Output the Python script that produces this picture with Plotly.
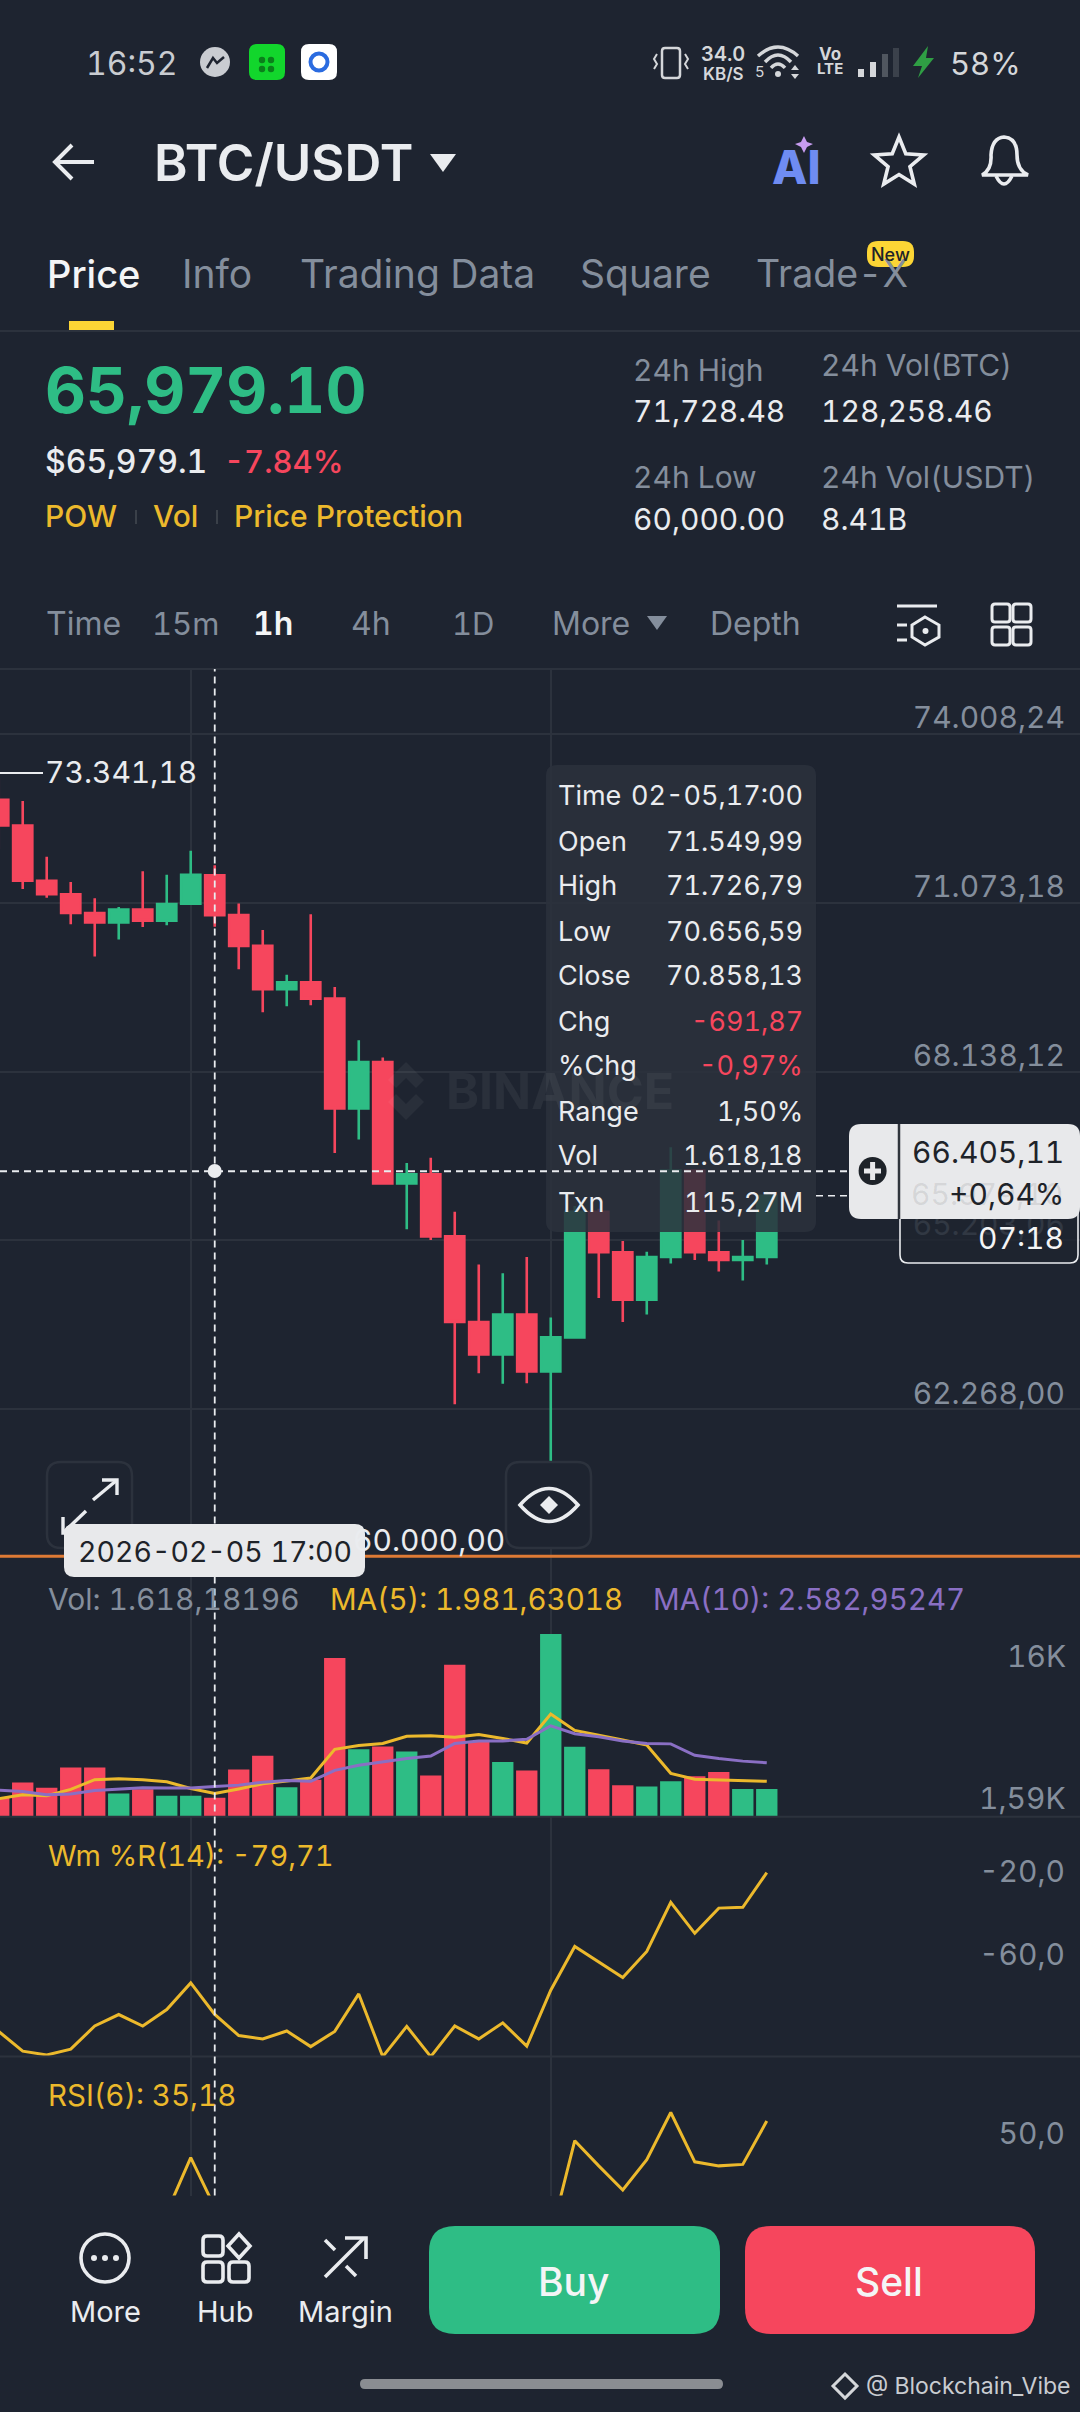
import pandas as pd
import plotly.graph_objects as go
from math import cos, sin, pi

W, H = 1080, 2412
FONT = "Inter"
BG = "#1e2430"
GRID = "#2c323d"
GREEN = "#2ebd85"
RED = "#f6465d"
GRAY = "#848e9c"
YEL = "#ecb92c"
PUR = "#8a6fc4"

times = pd.date_range("2026-02-05 08:00", periods=33, freq="h")
opens = [72865,72416,71457,71222,70895,70732,70957,70763,71059,71549.99,70858,70324,69569,69691,69406,67497,68303,66191,66354,65273,63783,63221,63915,62925,63517,65701,64997,64170,64915,66416,64997,64864,64915]
highs = [73253,72845,71875,71436,71151,70998,71620,71559,71977,71726.79,71059,70600,69824,70875,69610,68681,68385,66548,66640,65701,64783,64630,64915,63864,65803,65752,65191,65007,66824,66416,65548,65211,66058]
lows = [72008,71314,71161,70702,70140,70436,70651,70681,71059,70656.59,69916,69171,69273,69293,66722,66956,66191,65395,65211,62354,62895,62711,62721,60000,63517,64201,63783,63915,64803,64864,64660,64507,64783]
closes = [72416,71457,71222,70895,70732,70957,70763,71049,71559,70858.13,70324,69569,69691,69406,67497,68303,66191,66354,65273,63783,63221,63915,62925,63517,65701,64997,64170,64915,66416,64997,64864,64915,65979.10]
volumes = [1692,2916,2484,4212,4212,1980,2340,1800,1800,1618.18,4032,5220,2520,3168,13572,5760,6012,5580,3528,12996,6480,4680,3960,15624,5976,4068,2700,2592,3024,3456,3816,2376,2376]
ma5 = [1548,1872,1800,2340,3168,3240,3168,2988,2412,1981.63,2376,2808,3060,3312,5760,6084,6264,6876,6912,6804,7020,6696,6300,8784,7380,6984,6552,6120,3708,3204,3132,3096,3024]
ma10 = [2268,2160,1872,1944,2232,2376,2484,2448,2448,2582.95,2700,2952,3096,3024,3960,4392,4680,4968,5184,6264,6480,6480,6624,7776,7092,6840,6480,6264,6228,5256,4968,4752,4608]
wr14 = [-87.9,-97.4,-99.2,-96.4,-85.3,-79.8,-85.3,-77.4,-64.6,-79.71,-89.9,-91.5,-87.7,-95.2,-87.9,-69.9,-100,-85.5,-100,-85.3,-91.5,-83.8,-95,-68.1,-47.1,-54.5,-62,-49.5,-25.9,-40.8,-28.7,-28.3,-11.7]
rsi6 = [30,25,22,24,30,34,30,33.8,48.6,35.18,28,25,28,26,20,30,20,22,18,14,14,20,17,27.4,53.2,46.4,39.9,48.1,60.8,47.5,46.4,46.8,58.5]
price_ticks = [74008.24,71073.18,68138.12,65203.06,62268.00,59332.94]
price_labels = ["74.008,24","71.073,18","68.138,12","65.203,06","62.268,00","59.332,94"]
wr_ticks = [-20,-60]
wr_labels = ["-20,0","-60,0"]
rsi_ticks = [50]
rsi_labels = ["50,0"]
cross_price = 66405.11
last_price = 65979.10
alert_price = 59711
tooltip_rows = [("Time","02-05,17:00"),("Open","71.549,99"),("High","71.726,79"),("Low","70.656,59"),("Close","70.858,13"),("Chg","-691,87"),("%Chg","-0,97%"),("Range","1,50%"),("Vol","1.618,18"),("Txn","115,27M")]
tooltip_y = [796,841,886,931,976,1021,1066,1111,1156,1202]
tabs = [("Price",46,"#f4f5f6",38),("Info",181,GRAY,39),("Trading Data",299,GRAY,39),("Square",579,GRAY,39),("Trade-X",755,GRAY,37.5)]
intervals = [("Time",45,GRAY,400),("15m",151,GRAY,400),("1h",252,"#f4f5f6",600),("4h",350,GRAY,400),("1D",451,GRAY,400),("More",551,GRAY,400),("Depth",709,GRAY,400)]

px_left = times[0] + pd.Timedelta(minutes=3.2)
px_right = times[0] + pd.Timedelta(hours=45.05)

ann, shp = [], []
def fx(x): return x / W
def fy(y): return 1 - y / H
def P(a, b): return f"{fx(a):.5f} {fy(b):.5f}"
def T(text, x, y, size, color, anchor="left", weight=400):
    ann.append(dict(text=text, xref="paper", yref="paper", x=fx(x), y=fy(y), xanchor=anchor, yanchor="middle",
                    showarrow=False, borderpad=0, font=dict(family=FONT, size=size, color=color, weight=weight)))
def path(pts, color=None, width=2.5, fill=None, close=False, layer="above"):
    d = "M" + " L".join(P(a, b) for a, b in pts) + (" Z" if close else "")
    shp.append(dict(type="path", path=d, xref="paper", yref="paper", layer=layer, fillcolor=fill or "rgba(0,0,0,0)",
                    line=dict(color=color or "rgba(0,0,0,0)", width=width if color else 0)))
def rawpath(d, color, width):
    shp.append(dict(type="path", xref="paper", yref="paper", layer="above", fillcolor="rgba(0,0,0,0)",
                    line=dict(color=color, width=width), path=d))
def rrect(x0, y0, x1, y1, r, fill=None, color=None, width=2, layer="above"):
    d = (f"M{P(x0+r,y0)} L{P(x1-r,y0)} Q{P(x1,y0)} {P(x1,y0+r)} L{P(x1,y1-r)} Q{P(x1,y1)} {P(x1-r,y1)} "
         f"L{P(x0+r,y1)} Q{P(x0,y1)} {P(x0,y1-r)} L{P(x0,y0+r)} Q{P(x0,y0)} {P(x0+r,y0)} Z")
    shp.append(dict(type="path", path=d, xref="paper", yref="paper", layer=layer, fillcolor=fill or "rgba(0,0,0,0)",
                    line=dict(color=color or "rgba(0,0,0,0)", width=width if color else 0)))
def circ(cx, cy, rx, ry=None, fill=None, color=None, width=2.5):
    ry = ry or rx
    shp.append(dict(type="circle", xref="paper", yref="paper", x0=fx(cx-rx), x1=fx(cx+rx), y0=fy(cy+ry), y1=fy(cy-ry),
                    layer="above", fillcolor=fill or "rgba(0,0,0,0)", line=dict(color=color or "rgba(0,0,0,0)", width=width if color else 0)))
def line(x0, y0, x1, y1, color, width=2, dash=None, layer="above"):
    shp.append(dict(type="line", xref="paper", yref="paper", x0=fx(x0), x1=fx(x1), y0=fy(y0), y1=fy(y1), layer=layer,
                    line=dict(color=color, width=width, dash=dash)))

fig = go.Figure()
fig.add_trace(go.Candlestick(x=times, open=opens, high=highs, low=lows, close=closes, xaxis="x", yaxis="y",
    increasing=dict(line=dict(color=GREEN, width=2.6), fillcolor=GREEN),
    decreasing=dict(line=dict(color=RED, width=2.6), fillcolor=RED), whiskerwidth=0, hoverinfo="skip"))
fig.add_trace(go.Bar(x=times, y=volumes, xaxis="x", yaxis="y2", hoverinfo="skip",
    marker=dict(color=[GREEN if c >= o else RED for o, c in zip(opens, closes)], line=dict(width=0))))
fig.add_trace(go.Scatter(x=times, y=ma5, xaxis="x", yaxis="y2", mode="lines", line=dict(color=YEL, width=3), hoverinfo="skip"))
fig.add_trace(go.Scatter(x=times, y=ma10, xaxis="x", yaxis="y2", mode="lines", line=dict(color=PUR, width=3), hoverinfo="skip"))
fig.add_trace(go.Scatter(x=times, y=wr14, xaxis="x", yaxis="y3", mode="lines", line=dict(color=YEL, width=3), hoverinfo="skip"))
fig.add_trace(go.Scatter(x=times, y=rsi6, xaxis="x", yaxis="y4", mode="lines", line=dict(color=YEL, width=3), hoverinfo="skip"))

tickfont = dict(family=FONT, size=30, color=GRAY)
common = dict(side="right", ticks="", ticklabelposition="inside top", ticklabelstandoff=12, tickfont=tickfont,
              zeroline=False, showline=False, anchor="x", tickmode="array")
layout_axes = dict(
    xaxis=dict(type="date", range=[px_left, px_right], domain=[0, 1], tickmode="array", tickvals=[times[8], times[23]],
               showticklabels=False, ticks="", showgrid=True, gridcolor=GRID, gridwidth=1.5, zeroline=False,
               rangeslider=dict(visible=False), anchor="y"),
    yaxis=dict(domain=[fy(1578), fy(669)], range=[59332.94, 75138], tickvals=price_ticks, ticktext=price_labels,
               ticklabelshift=5, showgrid=True, gridcolor=GRID, gridwidth=1.5, **common),
    yaxis2=dict(domain=[fy(1816.7), fy(1578)], range=[0, 20412], showgrid=False, showticklabels=False, **common),
    yaxis3=dict(domain=[fy(2056.6), fy(1816.7)], range=[-100, 15.2], tickvals=wr_ticks, ticktext=wr_labels,
                ticklabelshift=2, showgrid=False, **common),
    yaxis4=dict(domain=[fy(2195.5), fy(2056.6)], range=[38.4, 75.9], tickvals=rsi_ticks, ticktext=rsi_labels,
                ticklabelshift=2, showgrid=False, **common),
)

# pane rules
line(0, 331, W, 331, GRID, 2)
line(0, 669, W, 669, GRID, 2)
line(0, 1816.7, W, 1816.7, GRID, 2)
line(0, 2056.6, W, 2056.6, GRID, 2)

# status bar
T("16:52", 85, 63, 32, "#c9ccd1")
circ(215, 62, 15, fill="#c9ccd1")
path([(207,68),(213,58),(217,63),(224,57)], "#1e2430", 2.5)
rrect(249, 44, 285, 80, 8, fill="#12d62c")
for a, b in [(262,60),(271,60),(262,69),(271,69)]:
    circ(a, b, 3.2, fill="#0b7f1b")
rrect(301, 44, 337, 80, 8, fill="#ffffff")
circ(319, 62, 8.5, color="#2a6be0", width=4)
T("34.0", 723, 54, 20, "#d5d7da", "center", 600)
T("KB/S", 723, 74, 17, "#d5d7da", "center", 600)
T("5", 760, 72, 15, "#d5d7da", "center")
rrect(662, 48, 680, 78, 3, color="#d5d7da", width=2.5)
path([(657,54),(654,59),(657,64),(654,69)], "#d5d7da", 2)
path([(685,54),(688,59),(685,64),(688,69)], "#d5d7da", 2)
rawpath(f"M{P(758,56)} Q{P(778,38)} {P(798,56)}", "#d5d7da", 3.4)
rawpath(f"M{P(765,62)} Q{P(778,48)} {P(791,62)}", "#d5d7da", 3.4)
rawpath(f"M{P(771,68)} Q{P(778,60)} {P(785,68)}", "#d5d7da", 3.4)
circ(778, 74, 3, fill="#d5d7da")
path([(791,70),(795,65),(799,70)], None, fill="#d5d7da", close=True)
path([(791,74),(795,79),(799,74)], None, fill="#d5d7da", close=True)
T("Vo", 830, 54, 17, "#d5d7da", "center", 700)
T("LTE", 830, 69, 15, "#d5d7da", "center", 700)
for bx, top, c in [(861,69,"#d5d7da"),(873,62,"#d5d7da"),(885,54,"#50565f"),(896,48,"#3b414b")]:
    line(bx, 77, bx, top, c, 6)
path([(928,46),(913,66),(922,66),(918,78),(934,58),(926,58)], None, fill="#2f9e44", close=True)
T("58%", 949, 63, 31, "#d5d7da")

# header
path([(94,162),(56,162)], "#eaecef", 4)
path([(72,145),(55,162),(72,179)], "#eaecef", 4)
T("BTC/USDT", 153, 163, 51, "#eaecef", weight=600)
path([(430,154),(456,154),(443,172)], None, fill="#eaecef", close=True)
T("AI", 796, 167, 46, "#6f8cf2", "center", 800)
path([(804,136),(807,142),(813,144),(807,147),(804,153),(801,147),(795,144),(801,142)], None, fill="#c79cf0", close=True)
star = []
for k in range(10):
    r = 26 if k % 2 == 0 else 11.5
    star.append((899 + r*sin(k*pi/5), 163 - r*cos(k*pi/5)))
path(star, "#eaecef", 3.6, close=True)
rawpath(f"M{P(982,175)} Q{P(992,170)} {P(991,155)} Q{P(992,138)} {P(1004,137)} Q{P(1017,138)} {P(1017,155)} Q{P(1017,170)} {P(1028,175)} Z", "#eaecef", 3.6)
rawpath(f"M{P(996,176)} Q{P(1004,192)} {P(1012,176)}", "#eaecef", 3.6)

# tabs
for t, x, c, s in tabs:
    T(t, x, 274, s, c, weight=500 if t == "Price" else 400)
rrect(867, 241, 914, 267, 11, fill="#fcd535")
T("New", 890.5, 254, 18, "#1e2329", "center", 500)
shp.append(dict(type="rect", xref="paper", yref="paper", x0=fx(69), x1=fx(114), y0=fy(330), y1=fy(321), fillcolor="#fcd535", line=dict(width=0), layer="above"))

# ticker
T("65,979.10", 44, 389, 63.5, GREEN, weight=700)
T("$65,979.1", 44, 462, 32, "#eaecef", weight=500)
T("-7.84%", 223, 462, 31, RED, weight=500)
T("POW", 44, 516, 30, YEL, weight=500)
T("Vol", 152, 516, 30, YEL, weight=500)
T("Price Protection", 233, 516, 30, YEL, weight=500)
line(136, 510, 136, 524, "#3a4049", 2)
line(217, 510, 217, 524, "#3a4049", 2)
T("24h High", 632, 370, 30, GRAY)
T("71,728.48", 632, 411, 30, "#eaecef")
T("24h Low", 632, 477, 30, GRAY)
T("60,000.00", 632, 519, 30, "#eaecef")
T("24h Vol(BTC)", 820, 365, 30, GRAY)
T("128,258.46", 820, 411, 30, "#eaecef")
T("24h Vol(USDT)", 820, 477, 30, GRAY)
T("8.41B", 820, 519, 30, "#eaecef")

# interval row
for t, x, c, w in intervals:
    T(t, x, 624, 32 if t not in ("15m", "1D") else 31, c, weight=w)
path([(647,616),(667,616),(657,630)], None, fill=GRAY, close=True)
line(897, 606, 937, 606, "#eaecef", 3)
line(897, 625, 907, 625, "#eaecef", 3)
line(897, 640, 907, 640, "#eaecef", 3)
path([(925,617),(939,625),(939,637),(925,645),(912,637),(912,625)], "#eaecef", 3, close=True)
circ(925.5, 631, 3, fill="#eaecef")
for a, b in [(992,604),(1013,604),(992,627),(1013,627)]:
    rrect(a, b, a+18, b+18, 3, color="#eaecef", width=3)

# watermark
path([(406,1062),(388,1080),(396,1088),(406,1078),(416,1088),(424,1080)], None, fill="rgba(255,255,255,0.05)", close=True)
path([(406,1120),(388,1102),(396,1094),(406,1104),(416,1094),(424,1102)], None, fill="rgba(255,255,255,0.05)", close=True)
T("BINANCE", 445, 1091, 50, "rgba(255,255,255,0.055)", weight=700)

# price markers
line(0, 773, 43, 773, "#eaecef", 2)
ann.append(dict(text="73.341,18", xref="paper", yref="y", x=fx(44), y=73341.18, xanchor="left", yanchor="middle", showarrow=False,
                borderpad=0, font=dict(family=FONT, size=30, color="#eaecef")))
shp.append(dict(type="line", xref="paper", yref="y", x0=0, x1=1, y0=alert_price, y1=alert_price, layer="above", line=dict(color="#de7a35", width=3)))
shp.append(dict(type="line", xref="paper", yref="y", x0=fx(506), x1=fx(550), y0=60000, y1=60000, layer="above", line=dict(color="#eaecef", width=2)))
ann.append(dict(text="60.000,00", xref="paper", yref="y", x=fx(506), y=60000, xanchor="right", yanchor="middle", showarrow=False,
                borderpad=0, font=dict(family=FONT, size=30, color="#eaecef")))

# tooltip
rrect(546, 765, 816, 1232, 11, fill="rgba(43,49,60,0.86)")
for (lab, val), y in zip(tooltip_rows, tooltip_y):
    T(lab, 557, y, 27, "#eaecef")
    T(val, 804, y, 27, RED if val.startswith("-") else "#eaecef", "right")

# crosshair
shp.append(dict(type="line", xref="x", yref="paper", x0=times[9], x1=times[9], y0=fy(2195.5), y1=fy(669), layer="above",
                line=dict(color="#eaecef", width=1.8, dash="7px,5px")))
shp.append(dict(type="line", xref="paper", yref="y", x0=0, x1=fx(850), y0=cross_price, y1=cross_price, layer="above",
                line=dict(color="#eaecef", width=1.8, dash="7px,5px")))
circ(214.7, 1171, 7, fill="#eaecef")
shp.append(dict(type="line", xref="paper", yref="y", x0=fx(816), x1=fx(850), y0=last_price, y1=last_price, layer="above",
                line=dict(color="#eaecef", width=1.5, dash="7px,5px")))

# countdown + price tag
rrect(900, 1200, 1078, 1263, 8, fill="rgba(30,36,48,0.82)", color="#eaecef", width=1.6)
rrect(849, 1124, 1080, 1219, 12, fill="#e8e9eb")
line(899, 1124, 899, 1219, "#30353d", 2.5)
circ(872.6, 1171, 14, fill="#1e2329")
line(864, 1171, 881, 1171, "#e8e9eb", 5)
line(872.6, 1162, 872.6, 1180, "#e8e9eb", 5)
T("65.979,10", 1064, 1194, 30, "rgba(30,35,41,0.10)", "right")
T("66.405,11", 1065, 1152, 30, "#1e2329", "right")
T("+0,64%", 1065, 1194, 30, "#1e2329", "right")
T("07:18", 1065, 1238, 30, "#f4f5f6", "right")

# chart buttons
rrect(47, 1462, 132, 1548, 14, fill="rgba(30,36,48,0.6)", color=GRID, width=2.5)
rrect(506, 1462, 591, 1548, 14, fill=BG, color=GRID, width=2.5)
path([(93,1500),(117,1480)], "#eaecef", 3.4)
path([(102,1480),(117,1480),(117,1495)], "#eaecef", 3.4)
path([(86,1511),(63,1533)], "#eaecef", 3.4)
path([(63,1517),(63,1533),(79,1533)], "#eaecef", 3.4)
rawpath(f"M{P(520,1505)} Q{P(549,1472)} {P(578,1505)} Q{P(549,1538)} {P(520,1505)} Z", "#eaecef", 3.6)
path([(549,1496),(558,1505),(549,1514),(540,1505)], None, fill="#eaecef", close=True)

# date tag
rrect(64, 1524, 365, 1577, 10, fill="#e8e9eb")
T("2026-02-05 17:00", 214.5, 1551, 28.5, "#1e2329", "center")

# pane headers
T("Vol: 1.618,18196", 47, 1599, 30, GRAY)
T("MA(5): 1.981,63018", 329, 1599, 29.5, YEL)
T("MA(10): 2.582,95247", 652, 1599, 29.5, PUR)
T("Wm %R(14): -79,71", 47, 1855, 29, YEL)
T("RSI(6): 35,18", 47, 2095, 29.5, YEL)
ann.append(dict(text="16K", xref="paper", yref="y2", x=fx(1067), y=16000, xanchor="right", yanchor="top", yshift=-7, showarrow=False,
                borderpad=0, font=tickfont))
ann.append(dict(text="1,59K", xref="paper", yref="y2", x=fx(1067), y=1590, xanchor="right", yanchor="middle", showarrow=False,
                borderpad=0, font=tickfont))

# bottom nav
circ(105, 2258, 24, color="#eaecef", width=3.6)
for a in (94, 105, 116):
    circ(a, 2258, 3, fill="#eaecef")
T("More", 105, 2311, 29, "#eaecef", "center")
rrect(203, 2236, 223, 2256, 4, color="#eaecef", width=3.6)
rrect(203, 2262, 223, 2282, 4, color="#eaecef", width=3.6)
rrect(229, 2262, 249, 2282, 4, color="#eaecef", width=3.6)
path([(239,2234),(250,2246),(239,2258),(228,2246)], "#eaecef", 3.6, close=True)
T("Hub", 225, 2311, 29, "#eaecef", "center")
path([(325,2277),(364,2238)], "#eaecef", 3.6)
path([(345,2238),(366,2238),(366,2259)], "#eaecef", 3.6)
path([(325,2240),(335,2250)], "#eaecef", 3.6)
path([(346,2266),(356,2276)], "#eaecef", 3.6)
T("Margin", 345, 2311, 29, "#eaecef", "center")
rrect(429, 2226, 720, 2334, 26, fill=GREEN)
T("Buy", 574, 2281, 39, "#f4f5f6", "center", 500)
rrect(745, 2226, 1035, 2334, 26, fill=RED)
T("Sell", 889, 2281, 39, "#f4f5f6", "center", 500)
rrect(360, 2379, 723, 2389, 5, fill="#8a8d92")
path([(845,2374),(857,2386),(845,2398),(833,2386)], "#d5d7da", 3, close=True)
T("@ Blockchain_Vibe", 1071, 2386, 23, "#c9ccd1", "right")

fig.update_layout(width=W, height=H, margin=dict(l=0, r=0, t=0, b=0), paper_bgcolor=BG, plot_bgcolor=BG, showlegend=False,
                  bargap=0.11, boxgap=0.2, boxgroupgap=0, annotations=ann, shapes=shp, dragmode=False, **layout_axes)
post = """
document.body.style.margin='0';document.body.style.background='#1e2430';
var st=document.createElement('style');
st.textContent='svg text{font-feature-settings:"tnum" 1;font-variant-numeric:tabular-nums}';
document.head.appendChild(st);
var gd=document.getElementById('{plot_id}');
var fam='Inter, sans-serif';
gd.layout.annotations.forEach(function(a){a.font.family=fam;});
['yaxis','yaxis3','yaxis4'].forEach(function(k){gd.layout[k].tickfont.family=fam;});
Plotly.newPlot(gd,gd.data,gd.layout,{displayModeBar:false});
"""
fig.write_html("out.html", post_script=post, config=dict(displayModeBar=False, responsive=False))
